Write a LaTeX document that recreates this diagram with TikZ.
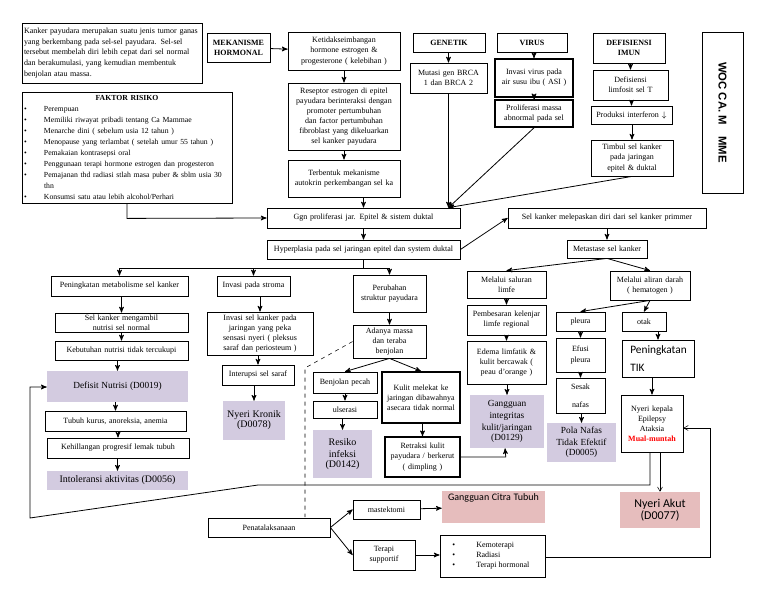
\documentclass[tikz,border=0pt]{standalone}
\usepackage{fontspec}
\setmainfont{Liberation Serif}
\newfontfamily\calib{Carlito}
\newfontfamily\arl{Liberation Sans}
\usepackage{xcolor}
\usetikzlibrary{arrows,positioning,fit}
\definecolor{purp}{HTML}{D3CBE0}
\definecolor{rosa}{HTML}{E6BDBD}
% box from corner to corner, named, with text inside
\newcommand\bx[7]{%
  \node[fit={(#2,#3)(#4,#5)},inner sep=0pt,#6] (#1) {};
  \pgfmathsetmacro\tw{(#4-#2)*0.75-3}
  \node[text width=\tw pt,align=center,inner sep=0pt] at (#1.center) {\lefthyphenmin=62 #7};}
\begin{document}
\lefthyphenmin=62
\begin{tikzpicture}[x=0.75pt,y=-0.75pt,font=\fontsize{6}{7.6}\selectfont,
      box/.style={draw,line width=0.6pt},
      thick box/.style={draw,line width=1.2pt},
      lila/.style={fill=purp},
      pinkbox/.style={fill=rosa},
      arr/.style={->,>=stealth',line width=0.6pt}]
      \useasboundingbox[fill=white] (0,0) rectangle (768,593);
      %draw header boxes
      \bx{intro}{22}{23}{202}{83}{box}{\begin{minipage}{\tw pt}\fontsize{6}{8}\selectfont Kanker payudara merupakan suatu jenis tumor ganas yang berkembang pada sel-sel payudara. Sel-sel tersebut membelah diri lebih cepat dari sel normal dan berakumulasi, yang kemudian membentuk benjolan atau massa.\end{minipage}}
      \bx{faktor}{22}{92}{232}{203}{box}{\begin{minipage}{\tw pt}\fontsize{5.8}{8.3}\selectfont
        \centerline{\textbf{FAKTOR RISIKO}}
        \makebox[15pt][l]{\textbullet}Perempuan\\
        \makebox[15pt][l]{\textbullet}Memiliki riwayat pribadi tentang Ca Mammae\\
        \makebox[15pt][l]{\textbullet}Menarche dini ( sebelum usia 12 tahun )\\
        \makebox[15pt][l]{\textbullet}Menopause yang terlambat ( setelah umur 55 tahun )\\
        \makebox[15pt][l]{\textbullet}Pemakaian kontrasepsi oral\\
        \makebox[15pt][l]{\textbullet}Penggunaan terapi hormone estrogen dan progesteron\\
        \makebox[15pt][l]{\textbullet}Pemajanan thd radiasi stlah masa puber \& sblm usia 30\\
        \makebox[15pt][l]{}thn\\
        \makebox[15pt][l]{\textbullet}Konsumsi satu atau lebih alcohol/Perhari\end{minipage}}
      \bx{meka}{207}{33}{270}{62}{box}{\textbf{MEKANISME HORMONAL}}
      \bx{hormon}{288}{32}{400}{70}{box}{Ketidakseimbangan hormone estrogen \& progesterone ( kelebihan )}
      \bx{resep}{288}{83}{400}{150}{box}{Reseptor estrogen di epitel payudara berinteraksi dengan promoter pertumbuhan dan factor pertumbuhan fibroblast yang dikeluarkan sel kanker payudara}
      \bx{autok}{288}{160}{400}{197}{box}{Terbentuk mekanisme autokrin perkembangan sel ka}
      \bx{genetik}{413}{33}{485}{52}{box}{\textbf{GENETIK}}
      \bx{mutasi}{410}{63}{487}{93}{box}{Mutasi gen BRCA 1 dan BRCA 2}
      \bx{virus}{497}{33}{567}{52}{box}{\textbf{VIRUS}}
      \bx{invvir}{495}{59}{573}{97}{thick box}{Invasi virus pada air susu ibu ( ASI )}
      \bx{prolif}{495}{100}{573}{127}{thick box}{Proliferasi massa abnormal pada sel}
      \bx{imun}{593}{33}{665}{63}{box}{\textbf{DEFISIENSI IMUN}}
      \bx{limfo}{593}{70}{668}{100}{box}{Defisiensi limfosit sel T}
      \bx{interf}{591}{106}{672}{124}{box}{Produksi interferon $\downarrow$}
      \bx{timbul}{591}{140}{673}{176}{box}{Timbul sel kanker pada jaringan epitel \& duktal}
      \node[fit={(702,32)(743,193)},inner sep=0pt,box] (woc) {};
      \node[rotate=-90,font=\arl\bfseries\fontsize{8.5}{10}\selectfont] at (woc.center) {WOC CA. M\quad MME};
      %draw middle boxes
      \bx{ggn}{267}{208}{460}{228}{box}{Ggn proliferasi jar. Epitel \& sistem duktal}
      \bx{hyper}{267}{240}{460}{259}{box}{Hyperplasia pada sel jaringan epitel dan system duktal}
      \bx{lepas}{508}{208}{706}{228}{box}{Sel kanker melepaskan diri dari sel kanker primmer}
      \bx{metas}{567}{240}{647}{258}{box}{Metastase sel kanker}
      \bx{limfe}{467}{271}{546}{298}{box}{Melalui saluran\\limfe}
      \bx{darah}{610}{271}{690}{300}{box}{Melalui aliran darah ( hematogen )}
      \bx{pembes}{467}{305}{546}{335}{box}{Pembesaran kelenjar limfe regional}
      \bx{edema}{467}{341}{546}{384}{box}{Edema limfatik \& kulit bercawak ( peau d'orange )}
      \bx{integ}{470}{395}{544}{448}{lila}{\fontsize{7}{9}\selectfont Gangguan\\integritas\\kulit/jaringan\\(D0129)}
      \bx{pleura}{556}{312}{605}{331}{box}{pleura}
      \bx{efusi}{556}{338}{605}{372}{box}{Efusi\\pleura}
      \bx{sesak}{556}{378}{605}{413}{box}{Sesak\\[6pt]nafas}
      \bx{pola}{547}{423}{616}{462}{lila}{\fontsize{7}{9}\selectfont Pola Nafas\\Tidak Efektif\\(D0005)}
      \bx{otak}{622}{312}{666}{331}{box}{otak}
      \node[fit={(622,340)(694,377)},inner sep=0pt,box] (tik) {};
      \node[align=left,anchor=west,font=\calib\fontsize{8.5}{13}\selectfont] at ([xshift=3pt]tik.west) {Peningkatan\\TIK};
      \bx{kepala}{621}{395}{683}{452}{box}{Nyeri kepala\\Epilepsy\\Ataksia\\\textcolor{red}{\textbf{Mual-muntah}}}
      \bx{akut}{620}{492}{700}{528}{pinkbox}{\calib\fontsize{9}{11}\selectfont Nyeri Akut\\(D0077)}
      %draw left columns
      \bx{metab}{51}{276}{188}{296}{box}{Peningkatan metabolisme sel kanker}
      \bx{ambil}{55}{313}{188}{332}{box}{Sel kanker mengambil nutrisi sel normal}
      \bx{kebut}{55}{341}{188}{360}{box}{Kebutuhan nutrisi tidak tercukupi}
      \bx{defis}{47}{371}{188}{402}{lila}{\fontsize{7}{9}\selectfont Defisit Nutrisi (D0019)}
      \bx{tubuh}{45}{411}{186}{431}{box}{Tubuh kurus, anoreksia, anemia}
      \bx{hilang}{47}{438}{189}{458}{box}{Kehillangan progresif lemak tubuh}
      \bx{intol}{47}{471}{188}{490}{lila}{\fontsize{7.5}{9}\selectfont Intoleransi aktivitas (D0056)}
      \bx{stroma}{217}{276}{290}{296}{box}{Invasi pada stroma}
      \bx{invsel}{207}{312}{313}{355}{box}{Invasi sel kanker pada jaringan yang peka sensasi nyeri ( pleksus saraf dan periosteum )}
      \bx{interup}{222}{365}{294}{385}{box}{Interupsi sel saraf}
      \bx{kronik}{223}{401}{285}{440}{lila}{\fontsize{7.5}{9}\selectfont Nyeri Kronik\\(D0078)}
      \bx{perub}{353}{275}{426}{312}{box}{Perubahan\\struktur payudara}
      \bx{massa}{353}{325}{426}{358}{box}{Adanya massa\\dan teraba\\benjolan}
      \bx{pecah}{313}{372}{377}{393}{box}{Benjolan pecah}
      \bx{ulser}{313}{401}{377}{418}{box}{ulserasi}
      \bx{resiko}{313}{430}{372}{478}{lila}{\fontsize{7.5}{9.5}\selectfont Resiko\\infeksi\\(D0142)}
      \bx{kulit}{382}{372}{460}{423}{thick box}{Kulit melekat ke jaringan dibawahnya asecara tidak normal}
      \bx{retrak}{385}{437}{460}{477}{thick box}{Retraksi kulit payudara / berkerut ( dimpling )}
      %draw bottom boxes
      \bx{pena}{208}{518}{330}{537}{box}{Penatalaksanaan}
      \bx{mastek}{353}{500}{420}{519}{box}{mastektomi}
      \bx{terapi}{353}{540}{415}{570}{box}{Terapi\\supportif}
      \bx{citra}{442}{491}{545}{523}{pinkbox}{\calib\fontsize{7.5}{9}\selectfont Gangguan Citra Tubuh\\[8pt]\mbox{}}
      \node[fit={(440,535)(545,577)},inner sep=0pt,box] (list) {};
      \node[align=left,anchor=north west] at ([xshift=6pt,yshift=-2pt]list.north west) {\makebox[18pt][l]{\textbullet}Kemoterapi\\\makebox[18pt][l]{\textbullet}Radiasi\\\makebox[18pt][l]{\textbullet}Terapi hormonal};
      %draw arrows
      \draw[arr] (meka) -- (hormon);
      \foreach \a/\b in {hormon/resep,resep/autok,autok/ggn,genetik/mutasi,virus/invvir,invvir/prolif,imun/limfo,limfo/interf,interf/timbul,ggn/hyper,lepas/metas,limfe/pembes,pembes/edema,edema/integ,pleura/efusi,efusi/sesak,sesak/pola,otak/tik,tik/kepala,metab/ambil,ambil/kebut,kebut/defis,defis/tubuh,tubuh/hilang,hilang/intol,stroma/invsel,invsel/interup,interup/kronik,perub/massa,pecah/ulser,ulser/resiko,kulit/retrak}{
        \draw[arr] (\a.south -| \b.north) -- (\b.north);
      }
      \draw[arr] (faktor.south) -- ++(0,15) -- (ggn.west);
      \draw[arr] (mutasi.south) -- (ggn.north -| mutasi.south);
      \draw[arr] (prolif.south) -- (ggn.north -| mutasi.south);
      \draw[arr] (timbul.south) -- (ggn.north -| mutasi.south);
      \draw[arr] (hyper.east) -- (lepas.west);
      \draw[arr] (metas.south) -- (limfe.north);
      \draw[arr] (metas.south) -- (darah.north);
      \draw[arr] (darah.south) -- (pleura.north);
      \draw[arr] (darah.south) -- (otak.north);
      \coordinate (split) at (hyper.south |- 0,268);
      \draw (hyper.south) -- (split);
      \draw (metab.north |- split) -- (perub.north |- split);
      \foreach \b in {metab,stroma,perub}{\draw[arr] (\b.north |- split) -- (\b.north);}
      \draw[arr] (massa.south) -- (pecah.north);
      \draw[arr] (massa.south) -- (kulit.north);
      \draw[arr] (retrak.east) -- ++(45,0) -- (integ.south -| 505,0);
      \draw[->,>=angle 60] (kepala.south -| 660,0) -- (akut.north -| 660,0);
      \draw[arr] (kepala.south -| 650,0) -- (650,485) -- (258,485) -- (30,518) -- (30,387) -- (defis.west |- 0,387);
      \draw[dashed] (massa.west) -- (305,368) -- (305,517);
      \draw[arr] (pena.east) -- (mastek.west);
      \draw[arr] (pena.east) -- (terapi.west);
      \draw[arr] (mastek) -- (citra);
      \draw[arr] (terapi.east) -- (list.west |- terapi.east);
      \draw[->,>=angle 60] (list.east |- 0,557) -- (710,557) -- (710,428) -- (kepala.east |- 0,428);
    \end{tikzpicture}
\end{document}
